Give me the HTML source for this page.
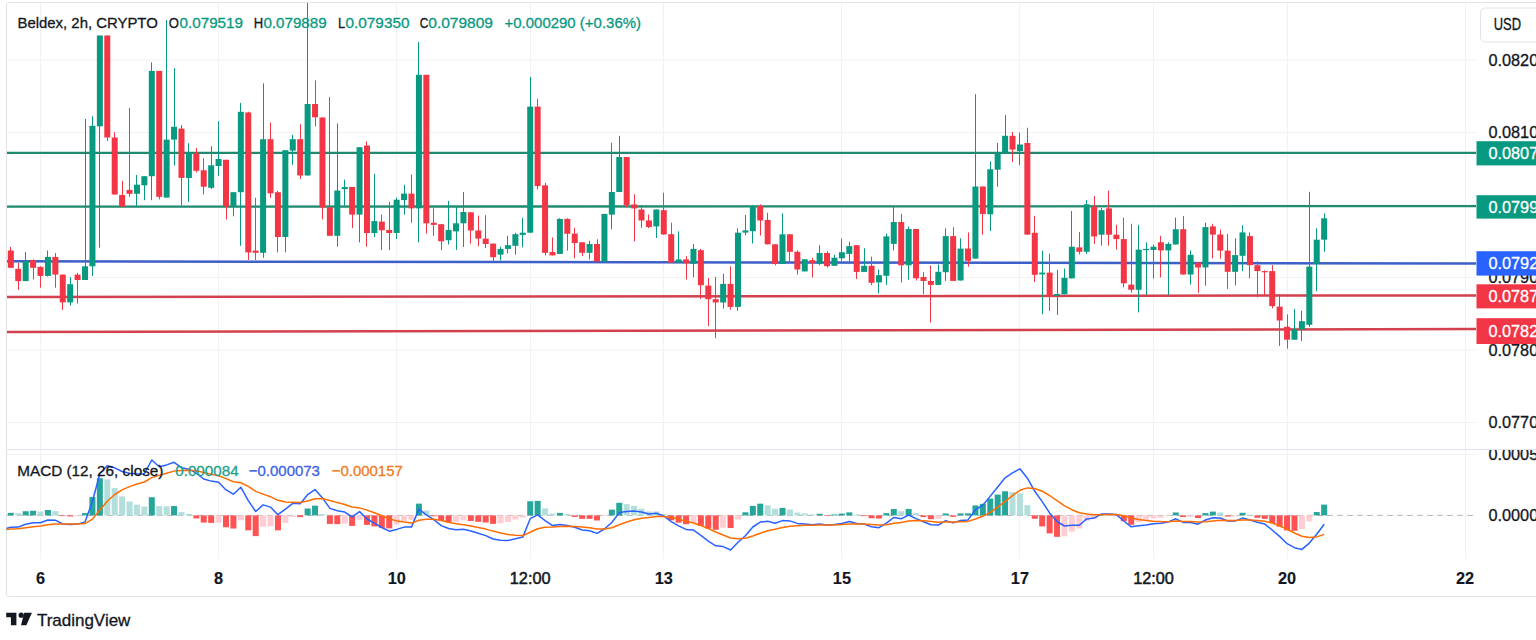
<!DOCTYPE html>
<html><head><meta charset="utf-8"><title>Beldex 2h chart</title>
<style>
html,body{margin:0;padding:0;background:#fff;width:1536px;height:640px;overflow:hidden}
svg{display:block}
text{font-family:"Liberation Sans",Arial,sans-serif}
</style></head><body>
<svg width="1536" height="640" viewBox="0 0 1536 640">
<defs><clipPath id="pane"><rect x="6.5" y="3" width="1469.5" height="593"/></clipPath></defs>
<rect x="0" y="0" width="1536" height="640" fill="#ffffff"/>

<path d="M1536 2.5H8.5a2 2 0 0 0-2 2V594.5a2 2 0 0 0 2 2H1536" fill="none" stroke="#e3e3e3" stroke-width="1"/>
<g stroke="#f2f2f2" stroke-width="1">
<line x1="40.5" y1="3" x2="40.5" y2="559"/>
<line x1="218.5" y1="3" x2="218.5" y2="559"/>
<line x1="396.5" y1="3" x2="396.5" y2="559"/>
<line x1="530.5" y1="3" x2="530.5" y2="559"/>
<line x1="663.5" y1="3" x2="663.5" y2="559"/>
<line x1="841.5" y1="3" x2="841.5" y2="559"/>
<line x1="1019.5" y1="3" x2="1019.5" y2="559"/>
<line x1="1153.5" y1="3" x2="1153.5" y2="559"/>
<line x1="1287.5" y1="3" x2="1287.5" y2="559"/>
<line x1="1465.5" y1="3" x2="1465.5" y2="559"/>
<line x1="7" y1="60" x2="1476" y2="60"/>
<line x1="7" y1="132.5" x2="1476" y2="132.5"/>
<line x1="7" y1="205" x2="1476" y2="205"/>
<line x1="7" y1="277.5" x2="1476" y2="277.5"/>
<line x1="7" y1="350" x2="1476" y2="350"/>
<line x1="7" y1="422.5" x2="1476" y2="422.5"/>
<line x1="7" y1="454.5" x2="1476" y2="454.5"/>
</g>
<line x1="7" y1="449.5" x2="1536" y2="449.5" stroke="#e0e3eb" stroke-width="1"/>
<g fill="none">
<line x1="7" y1="152.8" x2="1476" y2="152.95" stroke="#1f8a70" stroke-width="2.3"/>
<line x1="7" y1="206.7" x2="1476" y2="206.1" stroke="#1f8a70" stroke-width="2.3"/>
<line x1="7" y1="261.3" x2="1476" y2="263.55" stroke="#3d5fc8" stroke-width="2.5"/>
<line x1="7" y1="297.0" x2="1476" y2="295.4" stroke="#d2414d" stroke-width="2.5"/>
<line x1="7" y1="332.1" x2="1476" y2="329.0" stroke="#d2414d" stroke-width="2.5"/>
</g>
<g clip-path="url(#pane)">
<rect x="10" y="247.0" width="1" height="20.8" fill="#F23645"/>
<rect x="7.82" y="250.5" width="6" height="17.3" fill="#F23645"/>
<rect x="18" y="263.0" width="1" height="26.9" fill="#F23645"/>
<rect x="15.24" y="268.9" width="6" height="12.2" fill="#F23645"/>
<rect x="25" y="252.0" width="1" height="29.1" fill="#089981"/>
<rect x="22.66" y="260.8" width="6" height="20.3" fill="#089981"/>
<rect x="33" y="259.3" width="1" height="20.1" fill="#F23645"/>
<rect x="30.08" y="260.1" width="6" height="7.7" fill="#F23645"/>
<rect x="40" y="266.3" width="1" height="21.4" fill="#F23645"/>
<rect x="37.50" y="266.9" width="6" height="9.0" fill="#F23645"/>
<rect x="47" y="250.5" width="1" height="26.0" fill="#089981"/>
<rect x="44.92" y="256.9" width="6" height="19.0" fill="#089981"/>
<rect x="55" y="253.1" width="1" height="34.6" fill="#F23645"/>
<rect x="52.34" y="256.9" width="6" height="17.7" fill="#F23645"/>
<rect x="62" y="274.6" width="1" height="35.4" fill="#F23645"/>
<rect x="59.76" y="274.6" width="6" height="27.8" fill="#F23645"/>
<rect x="70" y="277.2" width="1" height="28.4" fill="#089981"/>
<rect x="67.18" y="284.2" width="6" height="18.2" fill="#089981"/>
<rect x="77" y="272.8" width="1" height="30.7" fill="#F23645"/>
<rect x="74.60" y="274.6" width="6" height="5.4" fill="#F23645"/>
<rect x="85" y="119.0" width="1" height="161.0" fill="#089981"/>
<rect x="82.02" y="266.3" width="6" height="13.7" fill="#089981"/>
<rect x="92" y="116.4" width="1" height="159.7" fill="#089981"/>
<rect x="89.44" y="125.8" width="6" height="140.5" fill="#089981"/>
<rect x="99" y="35.5" width="1" height="212.2" fill="#089981"/>
<rect x="96.86" y="35.5" width="6" height="90.8" fill="#089981"/>
<rect x="107" y="35.5" width="1" height="105.5" fill="#F23645"/>
<rect x="104.28" y="35.5" width="6" height="102.0" fill="#F23645"/>
<rect x="114" y="132.3" width="1" height="62.2" fill="#F23645"/>
<rect x="111.70" y="137.5" width="6" height="57.0" fill="#F23645"/>
<rect x="122" y="180.8" width="1" height="25.8" fill="#F23645"/>
<rect x="119.12" y="195.0" width="6" height="11.6" fill="#F23645"/>
<rect x="129" y="107.7" width="1" height="89.1" fill="#F23645"/>
<rect x="126.54" y="189.9" width="6" height="3.9" fill="#F23645"/>
<rect x="136" y="175.0" width="1" height="32.0" fill="#089981"/>
<rect x="133.96" y="184.7" width="6" height="9.1" fill="#089981"/>
<rect x="144" y="176.2" width="1" height="24.0" fill="#089981"/>
<rect x="141.38" y="176.2" width="6" height="9.1" fill="#089981"/>
<rect x="151" y="62.4" width="1" height="137.8" fill="#089981"/>
<rect x="148.80" y="70.9" width="6" height="105.3" fill="#089981"/>
<rect x="159" y="70.9" width="1" height="128.4" fill="#F23645"/>
<rect x="156.22" y="70.9" width="6" height="125.9" fill="#F23645"/>
<rect x="166" y="20.0" width="1" height="177.6" fill="#089981"/>
<rect x="163.64" y="139.6" width="6" height="58.0" fill="#089981"/>
<rect x="174" y="68.3" width="1" height="97.2" fill="#089981"/>
<rect x="171.06" y="126.8" width="6" height="12.8" fill="#089981"/>
<rect x="181" y="125.1" width="1" height="80.4" fill="#F23645"/>
<rect x="178.48" y="128.6" width="6" height="49.3" fill="#F23645"/>
<rect x="188" y="143.2" width="1" height="58.8" fill="#089981"/>
<rect x="185.90" y="152.8" width="6" height="25.2" fill="#089981"/>
<rect x="196" y="148.0" width="1" height="24.5" fill="#F23645"/>
<rect x="193.32" y="153.3" width="6" height="17.5" fill="#F23645"/>
<rect x="203" y="158.2" width="1" height="36.2" fill="#F23645"/>
<rect x="200.74" y="170.3" width="6" height="16.4" fill="#F23645"/>
<rect x="211" y="146.2" width="1" height="42.7" fill="#089981"/>
<rect x="208.16" y="165.3" width="6" height="22.5" fill="#089981"/>
<rect x="218" y="121.2" width="1" height="54.6" fill="#089981"/>
<rect x="215.58" y="159.0" width="6" height="7.0" fill="#089981"/>
<rect x="226" y="159.7" width="1" height="59.8" fill="#F23645"/>
<rect x="223.00" y="159.8" width="6" height="46.6" fill="#F23645"/>
<rect x="233" y="192.2" width="1" height="24.1" fill="#089981"/>
<rect x="230.42" y="192.2" width="6" height="14.2" fill="#089981"/>
<rect x="240" y="102.9" width="1" height="142.9" fill="#089981"/>
<rect x="237.84" y="111.8" width="6" height="80.4" fill="#089981"/>
<rect x="248" y="111.7" width="1" height="148.3" fill="#F23645"/>
<rect x="245.26" y="112.5" width="6" height="139.9" fill="#F23645"/>
<rect x="255" y="197.7" width="1" height="62.3" fill="#F23645"/>
<rect x="252.68" y="250.6" width="6" height="2.2" fill="#F23645"/>
<rect x="263" y="83.3" width="1" height="174.5" fill="#089981"/>
<rect x="260.10" y="139.2" width="6" height="113.6" fill="#089981"/>
<rect x="270" y="122.5" width="1" height="75.2" fill="#F23645"/>
<rect x="267.52" y="139.2" width="6" height="54.1" fill="#F23645"/>
<rect x="277" y="191.0" width="1" height="61.4" fill="#F23645"/>
<rect x="274.94" y="192.2" width="6" height="44.8" fill="#F23645"/>
<rect x="285" y="150.2" width="1" height="102.2" fill="#089981"/>
<rect x="282.36" y="150.2" width="6" height="86.8" fill="#089981"/>
<rect x="292" y="134.8" width="1" height="30.0" fill="#089981"/>
<rect x="289.78" y="139.2" width="6" height="11.4" fill="#089981"/>
<rect x="300" y="124.2" width="1" height="54.8" fill="#F23645"/>
<rect x="297.20" y="139.2" width="6" height="36.3" fill="#F23645"/>
<rect x="307" y="3.0" width="1" height="172.5" fill="#089981"/>
<rect x="304.62" y="104.0" width="6" height="71.5" fill="#089981"/>
<rect x="315" y="80.4" width="1" height="46.0" fill="#F23645"/>
<rect x="312.04" y="104.0" width="6" height="13.3" fill="#F23645"/>
<rect x="322" y="117.2" width="1" height="102.2" fill="#F23645"/>
<rect x="319.46" y="117.5" width="6" height="89.9" fill="#F23645"/>
<rect x="329" y="96.9" width="1" height="138.9" fill="#F23645"/>
<rect x="326.88" y="207.4" width="6" height="28.4" fill="#F23645"/>
<rect x="337" y="123.5" width="1" height="123.2" fill="#089981"/>
<rect x="334.30" y="190.5" width="6" height="45.3" fill="#089981"/>
<rect x="344" y="179.6" width="1" height="26.2" fill="#089981"/>
<rect x="341.72" y="187.0" width="6" height="2.2" fill="#089981"/>
<rect x="352" y="187.0" width="1" height="41.1" fill="#F23645"/>
<rect x="349.14" y="187.0" width="6" height="27.6" fill="#F23645"/>
<rect x="359" y="147.2" width="1" height="95.2" fill="#089981"/>
<rect x="356.56" y="147.2" width="6" height="67.4" fill="#089981"/>
<rect x="366" y="141.5" width="1" height="105.2" fill="#F23645"/>
<rect x="363.98" y="145.5" width="6" height="87.5" fill="#F23645"/>
<rect x="374" y="173.9" width="1" height="63.0" fill="#089981"/>
<rect x="371.40" y="221.1" width="6" height="11.9" fill="#089981"/>
<rect x="381" y="214.6" width="1" height="35.4" fill="#F23645"/>
<rect x="378.82" y="221.6" width="6" height="8.7" fill="#F23645"/>
<rect x="389" y="201.9" width="1" height="48.1" fill="#F23645"/>
<rect x="386.24" y="229.9" width="6" height="3.1" fill="#F23645"/>
<rect x="396" y="197.5" width="1" height="41.6" fill="#089981"/>
<rect x="393.66" y="199.7" width="6" height="33.3" fill="#089981"/>
<rect x="404" y="184.8" width="1" height="29.8" fill="#089981"/>
<rect x="401.08" y="193.6" width="6" height="6.5" fill="#089981"/>
<rect x="411" y="174.5" width="1" height="48.2" fill="#F23645"/>
<rect x="408.50" y="193.6" width="6" height="14.8" fill="#F23645"/>
<rect x="418" y="42.0" width="1" height="200.4" fill="#089981"/>
<rect x="415.92" y="74.8" width="6" height="133.6" fill="#089981"/>
<rect x="426" y="74.8" width="1" height="158.8" fill="#F23645"/>
<rect x="423.34" y="74.8" width="6" height="148.5" fill="#F23645"/>
<rect x="433" y="208.4" width="1" height="27.4" fill="#F23645"/>
<rect x="430.76" y="222.7" width="6" height="2.2" fill="#F23645"/>
<rect x="441" y="224.2" width="1" height="25.8" fill="#F23645"/>
<rect x="438.18" y="224.2" width="6" height="17.1" fill="#F23645"/>
<rect x="448" y="200.8" width="1" height="43.7" fill="#089981"/>
<rect x="445.60" y="229.9" width="6" height="10.3" fill="#089981"/>
<rect x="456" y="206.3" width="1" height="43.7" fill="#089981"/>
<rect x="453.02" y="223.3" width="6" height="8.1" fill="#089981"/>
<rect x="463" y="192.0" width="1" height="55.0" fill="#089981"/>
<rect x="460.44" y="212.0" width="6" height="11.3" fill="#089981"/>
<rect x="470" y="212.3" width="1" height="31.3" fill="#F23645"/>
<rect x="467.86" y="212.3" width="6" height="18.2" fill="#F23645"/>
<rect x="478" y="215.6" width="1" height="30.7" fill="#F23645"/>
<rect x="475.28" y="230.5" width="6" height="8.1" fill="#F23645"/>
<rect x="485" y="215.2" width="1" height="32.8" fill="#F23645"/>
<rect x="482.70" y="238.6" width="6" height="5.4" fill="#F23645"/>
<rect x="493" y="243.6" width="1" height="18.0" fill="#F23645"/>
<rect x="490.12" y="243.6" width="6" height="13.6" fill="#F23645"/>
<rect x="500" y="246.7" width="1" height="13.8" fill="#089981"/>
<rect x="497.54" y="248.9" width="6" height="5.7" fill="#089981"/>
<rect x="507" y="235.8" width="1" height="17.5" fill="#089981"/>
<rect x="504.96" y="245.2" width="6" height="3.7" fill="#089981"/>
<rect x="515" y="232.7" width="1" height="21.9" fill="#089981"/>
<rect x="512.38" y="234.2" width="6" height="11.6" fill="#089981"/>
<rect x="522" y="217.8" width="1" height="29.6" fill="#089981"/>
<rect x="519.80" y="232.7" width="6" height="2.2" fill="#089981"/>
<rect x="530" y="77.0" width="1" height="155.7" fill="#089981"/>
<rect x="527.22" y="106.6" width="6" height="126.1" fill="#089981"/>
<rect x="537" y="98.9" width="1" height="90.5" fill="#F23645"/>
<rect x="534.64" y="106.6" width="6" height="79.5" fill="#F23645"/>
<rect x="545" y="182.8" width="1" height="72.6" fill="#F23645"/>
<rect x="542.06" y="185.4" width="6" height="67.4" fill="#F23645"/>
<rect x="552" y="237.5" width="1" height="17.9" fill="#F23645"/>
<rect x="549.48" y="252.0" width="6" height="3.4" fill="#F23645"/>
<rect x="559" y="218.3" width="1" height="35.6" fill="#089981"/>
<rect x="556.90" y="218.9" width="6" height="35.0" fill="#089981"/>
<rect x="567" y="218.3" width="1" height="32.3" fill="#F23645"/>
<rect x="564.32" y="218.9" width="6" height="14.9" fill="#F23645"/>
<rect x="574" y="227.7" width="1" height="30.6" fill="#F23645"/>
<rect x="571.74" y="233.6" width="6" height="9.4" fill="#F23645"/>
<rect x="582" y="242.3" width="1" height="13.8" fill="#F23645"/>
<rect x="579.16" y="242.3" width="6" height="10.5" fill="#F23645"/>
<rect x="589" y="240.8" width="1" height="18.6" fill="#089981"/>
<rect x="586.58" y="244.0" width="6" height="8.8" fill="#089981"/>
<rect x="597" y="239.3" width="1" height="22.3" fill="#F23645"/>
<rect x="594.00" y="244.0" width="6" height="17.6" fill="#F23645"/>
<rect x="604" y="213.9" width="1" height="47.7" fill="#089981"/>
<rect x="601.42" y="213.9" width="6" height="47.7" fill="#089981"/>
<rect x="611" y="142.8" width="1" height="86.4" fill="#089981"/>
<rect x="608.84" y="192.0" width="6" height="22.6" fill="#089981"/>
<rect x="619" y="135.8" width="1" height="56.2" fill="#089981"/>
<rect x="616.26" y="157.0" width="6" height="35.0" fill="#089981"/>
<rect x="626" y="157.0" width="1" height="50.4" fill="#F23645"/>
<rect x="623.68" y="157.0" width="6" height="48.2" fill="#F23645"/>
<rect x="634" y="194.2" width="1" height="47.1" fill="#F23645"/>
<rect x="631.10" y="204.5" width="6" height="3.9" fill="#F23645"/>
<rect x="641" y="205.2" width="1" height="22.5" fill="#F23645"/>
<rect x="638.52" y="209.5" width="6" height="11.0" fill="#F23645"/>
<rect x="648" y="214.6" width="1" height="13.5" fill="#F23645"/>
<rect x="645.94" y="220.5" width="6" height="6.5" fill="#F23645"/>
<rect x="656" y="209.5" width="1" height="28.5" fill="#089981"/>
<rect x="653.36" y="209.5" width="6" height="16.9" fill="#089981"/>
<rect x="663" y="192.7" width="1" height="41.8" fill="#F23645"/>
<rect x="660.78" y="210.2" width="6" height="24.3" fill="#F23645"/>
<rect x="671" y="222.7" width="1" height="40.0" fill="#F23645"/>
<rect x="668.20" y="234.2" width="6" height="28.5" fill="#F23645"/>
<rect x="678" y="231.4" width="1" height="31.3" fill="#089981"/>
<rect x="675.62" y="259.4" width="6" height="3.3" fill="#089981"/>
<rect x="686" y="256.1" width="1" height="23.4" fill="#F23645"/>
<rect x="683.04" y="259.4" width="6" height="3.9" fill="#F23645"/>
<rect x="693" y="244.0" width="1" height="33.3" fill="#089981"/>
<rect x="690.46" y="248.9" width="6" height="14.9" fill="#089981"/>
<rect x="700" y="248.9" width="1" height="50.3" fill="#F23645"/>
<rect x="697.88" y="250.2" width="6" height="35.0" fill="#F23645"/>
<rect x="708" y="278.0" width="1" height="48.1" fill="#F23645"/>
<rect x="705.30" y="285.6" width="6" height="13.6" fill="#F23645"/>
<rect x="715" y="276.9" width="1" height="61.2" fill="#F23645"/>
<rect x="712.72" y="299.2" width="6" height="3.3" fill="#F23645"/>
<rect x="723" y="273.6" width="1" height="35.0" fill="#089981"/>
<rect x="720.14" y="283.9" width="6" height="18.6" fill="#089981"/>
<rect x="730" y="266.4" width="1" height="43.3" fill="#F23645"/>
<rect x="727.56" y="283.9" width="6" height="23.0" fill="#F23645"/>
<rect x="737" y="228.2" width="1" height="82.6" fill="#089981"/>
<rect x="734.98" y="232.7" width="6" height="74.2" fill="#089981"/>
<rect x="745" y="215.0" width="1" height="20.2" fill="#089981"/>
<rect x="742.40" y="230.4" width="6" height="2.2" fill="#089981"/>
<rect x="752" y="205.2" width="1" height="38.3" fill="#089981"/>
<rect x="749.82" y="206.0" width="6" height="25.2" fill="#089981"/>
<rect x="760" y="204.5" width="1" height="31.0" fill="#F23645"/>
<rect x="757.24" y="206.0" width="6" height="14.5" fill="#F23645"/>
<rect x="767" y="212.8" width="1" height="31.7" fill="#F23645"/>
<rect x="764.66" y="220.0" width="6" height="24.3" fill="#F23645"/>
<rect x="775" y="244.3" width="1" height="21.0" fill="#F23645"/>
<rect x="772.08" y="244.3" width="6" height="19.7" fill="#F23645"/>
<rect x="782" y="213.3" width="1" height="50.7" fill="#089981"/>
<rect x="779.50" y="234.3" width="6" height="29.7" fill="#089981"/>
<rect x="789" y="234.3" width="1" height="27.0" fill="#F23645"/>
<rect x="786.92" y="234.3" width="6" height="17.5" fill="#F23645"/>
<rect x="797" y="250.4" width="1" height="24.2" fill="#F23645"/>
<rect x="794.34" y="251.8" width="6" height="17.7" fill="#F23645"/>
<rect x="804" y="259.2" width="1" height="12.2" fill="#089981"/>
<rect x="801.76" y="259.3" width="6" height="12.1" fill="#089981"/>
<rect x="812" y="257.9" width="1" height="19.5" fill="#F23645"/>
<rect x="809.18" y="260.2" width="6" height="2.7" fill="#F23645"/>
<rect x="819" y="245.2" width="1" height="20.1" fill="#089981"/>
<rect x="816.60" y="253.0" width="6" height="10.7" fill="#089981"/>
<rect x="827" y="251.1" width="1" height="16.4" fill="#F23645"/>
<rect x="824.02" y="253.0" width="6" height="13.2" fill="#F23645"/>
<rect x="834" y="254.8" width="1" height="11.0" fill="#089981"/>
<rect x="831.44" y="257.7" width="6" height="8.1" fill="#089981"/>
<rect x="841" y="238.6" width="1" height="22.8" fill="#089981"/>
<rect x="838.86" y="252.2" width="6" height="6.1" fill="#089981"/>
<rect x="849" y="241.7" width="1" height="22.5" fill="#089981"/>
<rect x="846.28" y="246.1" width="6" height="7.8" fill="#089981"/>
<rect x="856" y="245.2" width="1" height="33.7" fill="#F23645"/>
<rect x="853.70" y="245.2" width="6" height="26.7" fill="#F23645"/>
<rect x="864" y="248.3" width="1" height="23.6" fill="#089981"/>
<rect x="861.12" y="265.8" width="6" height="6.1" fill="#089981"/>
<rect x="871" y="256.6" width="1" height="28.4" fill="#F23645"/>
<rect x="868.54" y="265.8" width="6" height="17.0" fill="#F23645"/>
<rect x="878" y="269.3" width="1" height="24.0" fill="#089981"/>
<rect x="875.96" y="275.2" width="6" height="7.2" fill="#089981"/>
<rect x="886" y="233.6" width="1" height="51.4" fill="#089981"/>
<rect x="883.38" y="236.4" width="6" height="39.4" fill="#089981"/>
<rect x="893" y="206.3" width="1" height="44.1" fill="#089981"/>
<rect x="890.80" y="222.0" width="6" height="21.9" fill="#089981"/>
<rect x="901" y="213.9" width="1" height="68.6" fill="#F23645"/>
<rect x="898.22" y="222.0" width="6" height="43.3" fill="#F23645"/>
<rect x="908" y="226.5" width="1" height="53.2" fill="#089981"/>
<rect x="905.64" y="229.0" width="6" height="36.3" fill="#089981"/>
<rect x="916" y="229.0" width="1" height="51.5" fill="#F23645"/>
<rect x="913.06" y="229.0" width="6" height="49.3" fill="#F23645"/>
<rect x="923" y="272.2" width="1" height="21.9" fill="#F23645"/>
<rect x="920.48" y="277.0" width="6" height="4.0" fill="#F23645"/>
<rect x="930" y="265.6" width="1" height="56.9" fill="#F23645"/>
<rect x="927.90" y="281.0" width="6" height="3.9" fill="#F23645"/>
<rect x="938" y="264.5" width="1" height="20.4" fill="#089981"/>
<rect x="935.32" y="271.8" width="6" height="13.1" fill="#089981"/>
<rect x="945" y="228.4" width="1" height="52.5" fill="#089981"/>
<rect x="942.74" y="236.1" width="6" height="36.1" fill="#089981"/>
<rect x="953" y="227.3" width="1" height="53.6" fill="#F23645"/>
<rect x="950.16" y="236.1" width="6" height="44.8" fill="#F23645"/>
<rect x="960" y="238.3" width="1" height="42.2" fill="#089981"/>
<rect x="957.58" y="248.6" width="6" height="31.9" fill="#089981"/>
<rect x="968" y="232.4" width="1" height="34.3" fill="#F23645"/>
<rect x="965.00" y="248.6" width="6" height="12.2" fill="#F23645"/>
<rect x="975" y="94.2" width="1" height="164.4" fill="#089981"/>
<rect x="972.42" y="186.5" width="6" height="72.1" fill="#089981"/>
<rect x="982" y="186.5" width="1" height="48.1" fill="#F23645"/>
<rect x="979.84" y="186.5" width="6" height="27.5" fill="#F23645"/>
<rect x="990" y="161.4" width="1" height="69.7" fill="#089981"/>
<rect x="987.26" y="169.3" width="6" height="45.0" fill="#089981"/>
<rect x="997" y="143.0" width="1" height="43.8" fill="#089981"/>
<rect x="994.68" y="153.3" width="6" height="16.4" fill="#089981"/>
<rect x="1005" y="115.0" width="1" height="37.6" fill="#089981"/>
<rect x="1002.10" y="135.8" width="6" height="16.8" fill="#089981"/>
<rect x="1012" y="132.0" width="1" height="30.0" fill="#F23645"/>
<rect x="1009.52" y="135.8" width="6" height="13.8" fill="#F23645"/>
<rect x="1019" y="132.5" width="1" height="32.4" fill="#089981"/>
<rect x="1016.94" y="144.5" width="6" height="6.6" fill="#089981"/>
<rect x="1027" y="127.7" width="1" height="106.9" fill="#F23645"/>
<rect x="1024.36" y="143.0" width="6" height="91.6" fill="#F23645"/>
<rect x="1034" y="215.8" width="1" height="66.2" fill="#F23645"/>
<rect x="1031.78" y="232.8" width="6" height="42.0" fill="#F23645"/>
<rect x="1042" y="250.8" width="1" height="63.4" fill="#089981"/>
<rect x="1039.20" y="272.6" width="6" height="1.8" fill="#089981"/>
<rect x="1049" y="253.6" width="1" height="57.5" fill="#F23645"/>
<rect x="1046.62" y="272.6" width="6" height="23.7" fill="#F23645"/>
<rect x="1057" y="270.0" width="1" height="44.9" fill="#089981"/>
<rect x="1054.04" y="294.0" width="6" height="1.8" fill="#089981"/>
<rect x="1064" y="268.5" width="1" height="25.8" fill="#089981"/>
<rect x="1061.46" y="277.8" width="6" height="16.5" fill="#089981"/>
<rect x="1071" y="211.1" width="1" height="67.3" fill="#089981"/>
<rect x="1068.88" y="246.7" width="6" height="31.7" fill="#089981"/>
<rect x="1079" y="232.1" width="1" height="22.3" fill="#F23645"/>
<rect x="1076.30" y="247.4" width="6" height="4.4" fill="#F23645"/>
<rect x="1086" y="200.0" width="1" height="54.0" fill="#089981"/>
<rect x="1083.72" y="204.3" width="6" height="47.5" fill="#089981"/>
<rect x="1094" y="195.9" width="1" height="48.0" fill="#F23645"/>
<rect x="1091.14" y="206.7" width="6" height="29.7" fill="#F23645"/>
<rect x="1101" y="208.0" width="1" height="37.6" fill="#089981"/>
<rect x="1098.56" y="210.2" width="6" height="24.5" fill="#089981"/>
<rect x="1108" y="190.5" width="1" height="55.1" fill="#F23645"/>
<rect x="1105.98" y="208.4" width="6" height="26.3" fill="#F23645"/>
<rect x="1116" y="224.8" width="1" height="24.8" fill="#F23645"/>
<rect x="1113.40" y="234.7" width="6" height="4.4" fill="#F23645"/>
<rect x="1123" y="217.6" width="1" height="69.6" fill="#F23645"/>
<rect x="1120.82" y="239.1" width="6" height="44.2" fill="#F23645"/>
<rect x="1131" y="223.8" width="1" height="68.9" fill="#F23645"/>
<rect x="1128.24" y="284.6" width="6" height="5.2" fill="#F23645"/>
<rect x="1138" y="224.8" width="1" height="87.6" fill="#089981"/>
<rect x="1135.66" y="249.6" width="6" height="40.2" fill="#089981"/>
<rect x="1146" y="242.3" width="1" height="52.6" fill="#089981"/>
<rect x="1143.08" y="248.9" width="6" height="1.2" fill="#089981"/>
<rect x="1153" y="244.5" width="1" height="33.9" fill="#089981"/>
<rect x="1150.50" y="246.7" width="6" height="3.3" fill="#089981"/>
<rect x="1160" y="235.8" width="1" height="41.6" fill="#F23645"/>
<rect x="1157.92" y="242.3" width="6" height="8.1" fill="#F23645"/>
<rect x="1168" y="242.3" width="1" height="52.6" fill="#089981"/>
<rect x="1165.34" y="243.9" width="6" height="6.5" fill="#089981"/>
<rect x="1175" y="217.6" width="1" height="26.9" fill="#089981"/>
<rect x="1172.76" y="229.2" width="6" height="15.3" fill="#089981"/>
<rect x="1183" y="216.1" width="1" height="58.4" fill="#F23645"/>
<rect x="1180.18" y="229.2" width="6" height="45.3" fill="#F23645"/>
<rect x="1190" y="250.4" width="1" height="34.2" fill="#089981"/>
<rect x="1187.60" y="254.8" width="6" height="19.7" fill="#089981"/>
<rect x="1198" y="262.7" width="1" height="30.0" fill="#F23645"/>
<rect x="1195.02" y="262.7" width="6" height="4.8" fill="#F23645"/>
<rect x="1205" y="222.7" width="1" height="63.0" fill="#089981"/>
<rect x="1202.44" y="227.1" width="6" height="40.3" fill="#089981"/>
<rect x="1212" y="223.8" width="1" height="34.7" fill="#F23645"/>
<rect x="1209.86" y="226.4" width="6" height="8.2" fill="#F23645"/>
<rect x="1220" y="229.7" width="1" height="29.0" fill="#F23645"/>
<rect x="1217.28" y="234.5" width="6" height="16.1" fill="#F23645"/>
<rect x="1227" y="233.9" width="1" height="55.1" fill="#F23645"/>
<rect x="1224.70" y="250.6" width="6" height="21.2" fill="#F23645"/>
<rect x="1235" y="238.3" width="1" height="47.0" fill="#089981"/>
<rect x="1232.12" y="255.1" width="6" height="16.7" fill="#089981"/>
<rect x="1242" y="225.2" width="1" height="45.9" fill="#089981"/>
<rect x="1239.54" y="232.4" width="6" height="23.4" fill="#089981"/>
<rect x="1249" y="232.4" width="1" height="45.9" fill="#F23645"/>
<rect x="1246.96" y="236.1" width="6" height="29.1" fill="#F23645"/>
<rect x="1257" y="261.3" width="1" height="36.1" fill="#F23645"/>
<rect x="1254.38" y="265.2" width="6" height="5.9" fill="#F23645"/>
<rect x="1264" y="270.4" width="1" height="24.8" fill="#F23645"/>
<rect x="1261.80" y="271.1" width="6" height="1.2" fill="#F23645"/>
<rect x="1272" y="265.2" width="1" height="43.1" fill="#F23645"/>
<rect x="1269.22" y="271.1" width="6" height="35.0" fill="#F23645"/>
<rect x="1279" y="294.1" width="1" height="51.8" fill="#F23645"/>
<rect x="1276.64" y="306.6" width="6" height="13.9" fill="#F23645"/>
<rect x="1287" y="314.4" width="1" height="34.3" fill="#F23645"/>
<rect x="1284.06" y="326.8" width="6" height="12.9" fill="#F23645"/>
<rect x="1294" y="308.8" width="1" height="30.9" fill="#089981"/>
<rect x="1291.48" y="329.6" width="6" height="10.1" fill="#089981"/>
<rect x="1301" y="310.8" width="1" height="30.1" fill="#089981"/>
<rect x="1298.90" y="321.2" width="6" height="8.4" fill="#089981"/>
<rect x="1309" y="191.8" width="1" height="135.1" fill="#089981"/>
<rect x="1306.32" y="266.6" width="6" height="58.2" fill="#089981"/>
<rect x="1316" y="228.4" width="1" height="62.7" fill="#089981"/>
<rect x="1313.74" y="239.7" width="6" height="24.1" fill="#089981"/>
<rect x="1324" y="213.4" width="1" height="38.2" fill="#089981"/>
<rect x="1321.16" y="218.3" width="6" height="21.4" fill="#089981"/>
</g>
<line x1="7" y1="515.4" x2="1476" y2="515.4" stroke="#b8b8b8" stroke-width="1" stroke-dasharray="6 4"/>
<g clip-path="url(#pane)">
<rect x="7.82" y="512.84" width="6" height="2.56" fill="#26A69A"/>
<rect x="15.24" y="513.19" width="6" height="2.21" fill="#B2DFDB"/>
<rect x="22.66" y="511.22" width="6" height="4.18" fill="#26A69A"/>
<rect x="30.08" y="510.80" width="6" height="4.60" fill="#26A69A"/>
<rect x="37.50" y="511.51" width="6" height="3.89" fill="#B2DFDB"/>
<rect x="44.92" y="510.00" width="6" height="5.40" fill="#26A69A"/>
<rect x="52.34" y="511.11" width="6" height="4.29" fill="#B2DFDB"/>
<rect x="59.76" y="515.40" width="6" height="0.68" fill="#FF5252"/>
<rect x="67.18" y="515.40" width="6" height="1.03" fill="#FF5252"/>
<rect x="74.60" y="515.40" width="6" height="0.69" fill="#FFCDD2"/>
<rect x="82.02" y="513.14" width="6" height="2.26" fill="#26A69A"/>
<rect x="89.44" y="497.08" width="6" height="18.32" fill="#26A69A"/>
<rect x="96.86" y="478.29" width="6" height="37.11" fill="#26A69A"/>
<rect x="104.28" y="479.34" width="6" height="36.06" fill="#B2DFDB"/>
<rect x="111.70" y="488.07" width="6" height="27.33" fill="#B2DFDB"/>
<rect x="119.12" y="496.41" width="6" height="18.99" fill="#B2DFDB"/>
<rect x="126.54" y="501.48" width="6" height="13.92" fill="#B2DFDB"/>
<rect x="133.96" y="504.65" width="6" height="10.75" fill="#B2DFDB"/>
<rect x="141.38" y="506.54" width="6" height="8.86" fill="#B2DFDB"/>
<rect x="148.80" y="497.25" width="6" height="18.15" fill="#26A69A"/>
<rect x="156.22" y="506.10" width="6" height="9.30" fill="#B2DFDB"/>
<rect x="163.64" y="506.38" width="6" height="9.02" fill="#B2DFDB"/>
<rect x="171.06" y="506.01" width="6" height="9.39" fill="#26A69A"/>
<rect x="178.48" y="512.09" width="6" height="3.31" fill="#B2DFDB"/>
<rect x="185.90" y="513.78" width="6" height="1.62" fill="#B2DFDB"/>
<rect x="193.32" y="515.40" width="6" height="3.02" fill="#FF5252"/>
<rect x="200.74" y="515.40" width="6" height="7.15" fill="#FF5252"/>
<rect x="208.16" y="515.40" width="6" height="7.51" fill="#FF5252"/>
<rect x="215.58" y="515.40" width="6" height="7.08" fill="#FFCDD2"/>
<rect x="223.00" y="515.40" width="6" height="11.88" fill="#FF5252"/>
<rect x="230.42" y="515.40" width="6" height="13.12" fill="#FF5252"/>
<rect x="237.84" y="515.40" width="6" height="4.98" fill="#FFCDD2"/>
<rect x="245.26" y="515.40" width="6" height="14.93" fill="#FF5252"/>
<rect x="252.68" y="515.40" width="6" height="20.72" fill="#FF5252"/>
<rect x="260.10" y="515.40" width="6" height="11.41" fill="#FFCDD2"/>
<rect x="267.52" y="515.40" width="6" height="10.96" fill="#FFCDD2"/>
<rect x="274.94" y="515.40" width="6" height="14.97" fill="#FF5252"/>
<rect x="282.36" y="515.40" width="6" height="7.61" fill="#FFCDD2"/>
<rect x="289.78" y="515.40" width="6" height="1.59" fill="#FFCDD2"/>
<rect x="297.20" y="515.40" width="6" height="1.74" fill="#FF5252"/>
<rect x="304.62" y="508.48" width="6" height="6.92" fill="#26A69A"/>
<rect x="312.04" y="505.68" width="6" height="9.72" fill="#26A69A"/>
<rect x="319.46" y="514.16" width="6" height="1.24" fill="#B2DFDB"/>
<rect x="326.88" y="515.40" width="6" height="8.49" fill="#FF5252"/>
<rect x="334.30" y="515.40" width="6" height="8.72" fill="#FF5252"/>
<rect x="341.72" y="515.40" width="6" height="8.19" fill="#FFCDD2"/>
<rect x="349.14" y="515.40" width="6" height="10.50" fill="#FF5252"/>
<rect x="356.56" y="515.40" width="6" height="4.32" fill="#FFCDD2"/>
<rect x="363.98" y="515.40" width="6" height="9.47" fill="#FF5252"/>
<rect x="371.40" y="515.40" width="6" height="11.01" fill="#FF5252"/>
<rect x="378.82" y="515.40" width="6" height="12.43" fill="#FF5252"/>
<rect x="386.24" y="515.40" width="6" height="12.99" fill="#FF5252"/>
<rect x="393.66" y="515.40" width="6" height="9.11" fill="#FFCDD2"/>
<rect x="401.08" y="515.40" width="6" height="5.53" fill="#FFCDD2"/>
<rect x="408.50" y="515.40" width="6" height="4.55" fill="#FFCDD2"/>
<rect x="415.92" y="503.62" width="6" height="11.78" fill="#26A69A"/>
<rect x="423.34" y="510.50" width="6" height="4.90" fill="#B2DFDB"/>
<rect x="430.76" y="515.40" width="6" height="0.97" fill="#FF5252"/>
<rect x="438.18" y="515.40" width="6" height="5.60" fill="#FF5252"/>
<rect x="445.60" y="515.40" width="6" height="6.97" fill="#FF5252"/>
<rect x="453.02" y="515.40" width="6" height="6.73" fill="#FFCDD2"/>
<rect x="460.44" y="515.40" width="6" height="4.98" fill="#FFCDD2"/>
<rect x="467.86" y="515.40" width="6" height="5.54" fill="#FF5252"/>
<rect x="475.28" y="515.40" width="6" height="6.40" fill="#FF5252"/>
<rect x="482.70" y="515.40" width="6" height="7.09" fill="#FF5252"/>
<rect x="490.12" y="515.40" width="6" height="8.47" fill="#FF5252"/>
<rect x="497.54" y="515.40" width="6" height="7.90" fill="#FFCDD2"/>
<rect x="504.96" y="515.40" width="6" height="6.60" fill="#FFCDD2"/>
<rect x="512.38" y="515.40" width="6" height="4.13" fill="#FFCDD2"/>
<rect x="519.80" y="515.40" width="6" height="2.05" fill="#FFCDD2"/>
<rect x="527.22" y="501.25" width="6" height="14.15" fill="#26A69A"/>
<rect x="534.64" y="500.88" width="6" height="14.52" fill="#26A69A"/>
<rect x="542.06" y="508.36" width="6" height="7.04" fill="#B2DFDB"/>
<rect x="549.48" y="513.56" width="6" height="1.84" fill="#B2DFDB"/>
<rect x="556.90" y="512.89" width="6" height="2.51" fill="#26A69A"/>
<rect x="564.32" y="514.05" width="6" height="1.35" fill="#B2DFDB"/>
<rect x="571.74" y="515.40" width="6" height="1.51" fill="#FF5252"/>
<rect x="579.16" y="515.40" width="6" height="3.44" fill="#FF5252"/>
<rect x="586.58" y="515.40" width="6" height="3.45" fill="#FF5252"/>
<rect x="594.00" y="515.40" width="6" height="5.08" fill="#FF5252"/>
<rect x="601.42" y="515.40" width="6" height="0.65" fill="#FFCDD2"/>
<rect x="608.84" y="509.62" width="6" height="5.78" fill="#26A69A"/>
<rect x="616.26" y="502.77" width="6" height="12.63" fill="#26A69A"/>
<rect x="623.68" y="504.16" width="6" height="11.24" fill="#B2DFDB"/>
<rect x="631.10" y="505.87" width="6" height="9.53" fill="#B2DFDB"/>
<rect x="638.52" y="508.66" width="6" height="6.74" fill="#B2DFDB"/>
<rect x="645.94" y="511.39" width="6" height="4.01" fill="#B2DFDB"/>
<rect x="653.36" y="511.41" width="6" height="3.99" fill="#B2DFDB"/>
<rect x="660.78" y="514.24" width="6" height="1.16" fill="#B2DFDB"/>
<rect x="668.20" y="515.40" width="6" height="4.85" fill="#FF5252"/>
<rect x="675.62" y="515.40" width="6" height="7.26" fill="#FF5252"/>
<rect x="683.04" y="515.40" width="6" height="8.81" fill="#FF5252"/>
<rect x="690.46" y="515.40" width="6" height="7.76" fill="#FFCDD2"/>
<rect x="697.88" y="515.40" width="6" height="10.53" fill="#FF5252"/>
<rect x="705.30" y="515.40" width="6" height="13.15" fill="#FF5252"/>
<rect x="712.72" y="515.40" width="6" height="14.36" fill="#FF5252"/>
<rect x="720.14" y="515.40" width="6" height="12.26" fill="#FFCDD2"/>
<rect x="727.56" y="515.40" width="6" height="12.61" fill="#FF5252"/>
<rect x="734.98" y="515.40" width="6" height="4.09" fill="#FFCDD2"/>
<rect x="742.40" y="512.30" width="6" height="3.10" fill="#26A69A"/>
<rect x="749.82" y="505.87" width="6" height="9.53" fill="#26A69A"/>
<rect x="757.24" y="503.67" width="6" height="11.73" fill="#26A69A"/>
<rect x="764.66" y="505.25" width="6" height="10.15" fill="#B2DFDB"/>
<rect x="772.08" y="508.70" width="6" height="6.70" fill="#B2DFDB"/>
<rect x="779.50" y="507.88" width="6" height="7.52" fill="#26A69A"/>
<rect x="786.92" y="509.49" width="6" height="5.91" fill="#B2DFDB"/>
<rect x="794.34" y="512.57" width="6" height="2.83" fill="#B2DFDB"/>
<rect x="801.76" y="513.43" width="6" height="1.97" fill="#B2DFDB"/>
<rect x="809.18" y="514.34" width="6" height="1.06" fill="#B2DFDB"/>
<rect x="816.60" y="513.78" width="6" height="1.62" fill="#26A69A"/>
<rect x="824.02" y="515.40" width="6" height="0.61" fill="#FF5252"/>
<rect x="831.44" y="514.46" width="6" height="0.94" fill="#26A69A"/>
<rect x="838.86" y="513.59" width="6" height="1.81" fill="#26A69A"/>
<rect x="846.28" y="512.37" width="6" height="3.03" fill="#26A69A"/>
<rect x="853.70" y="514.40" width="6" height="1.00" fill="#B2DFDB"/>
<rect x="861.12" y="515.40" width="6" height="0.77" fill="#FF5252"/>
<rect x="868.54" y="515.40" width="6" height="2.86" fill="#FF5252"/>
<rect x="875.96" y="515.40" width="6" height="3.15" fill="#FF5252"/>
<rect x="883.38" y="513.18" width="6" height="2.22" fill="#26A69A"/>
<rect x="890.80" y="509.03" width="6" height="6.37" fill="#26A69A"/>
<rect x="898.22" y="511.27" width="6" height="4.13" fill="#B2DFDB"/>
<rect x="905.64" y="508.93" width="6" height="6.47" fill="#26A69A"/>
<rect x="913.06" y="512.98" width="6" height="2.42" fill="#B2DFDB"/>
<rect x="920.48" y="515.40" width="6" height="1.65" fill="#FF5252"/>
<rect x="927.90" y="515.40" width="6" height="3.76" fill="#FF5252"/>
<rect x="935.32" y="515.40" width="6" height="3.47" fill="#FFCDD2"/>
<rect x="942.74" y="513.47" width="6" height="1.93" fill="#26A69A"/>
<rect x="950.16" y="515.40" width="6" height="1.42" fill="#FF5252"/>
<rect x="957.58" y="513.42" width="6" height="1.98" fill="#26A69A"/>
<rect x="965.00" y="513.36" width="6" height="2.04" fill="#26A69A"/>
<rect x="972.42" y="505.42" width="6" height="9.98" fill="#26A69A"/>
<rect x="979.84" y="503.84" width="6" height="11.56" fill="#26A69A"/>
<rect x="987.26" y="498.65" width="6" height="16.75" fill="#26A69A"/>
<rect x="994.68" y="494.57" width="6" height="20.83" fill="#26A69A"/>
<rect x="1002.10" y="491.28" width="6" height="24.12" fill="#26A69A"/>
<rect x="1009.52" y="492.05" width="6" height="23.35" fill="#B2DFDB"/>
<rect x="1016.94" y="493.36" width="6" height="22.04" fill="#B2DFDB"/>
<rect x="1024.36" y="505.14" width="6" height="10.26" fill="#B2DFDB"/>
<rect x="1031.78" y="515.40" width="6" height="3.36" fill="#FF5252"/>
<rect x="1039.20" y="515.40" width="6" height="11.01" fill="#FF5252"/>
<rect x="1046.62" y="515.40" width="6" height="18.01" fill="#FF5252"/>
<rect x="1054.04" y="515.40" width="6" height="21.42" fill="#FF5252"/>
<rect x="1061.46" y="515.40" width="6" height="20.87" fill="#FFCDD2"/>
<rect x="1068.88" y="515.40" width="6" height="16.24" fill="#FFCDD2"/>
<rect x="1076.30" y="515.40" width="6" height="13.11" fill="#FFCDD2"/>
<rect x="1083.72" y="515.40" width="6" height="5.46" fill="#FFCDD2"/>
<rect x="1091.14" y="515.40" width="6" height="3.84" fill="#FFCDD2"/>
<rect x="1098.56" y="514.07" width="6" height="1.33" fill="#26A69A"/>
<rect x="1105.98" y="514.23" width="6" height="1.17" fill="#B2DFDB"/>
<rect x="1113.40" y="515.40" width="6" height="0.65" fill="#FF5252"/>
<rect x="1120.82" y="515.40" width="6" height="5.74" fill="#FF5252"/>
<rect x="1128.24" y="515.40" width="6" height="9.36" fill="#FF5252"/>
<rect x="1135.66" y="515.40" width="6" height="6.86" fill="#FFCDD2"/>
<rect x="1143.08" y="515.40" width="6" height="4.85" fill="#FFCDD2"/>
<rect x="1150.50" y="515.40" width="6" height="3.09" fill="#FFCDD2"/>
<rect x="1157.92" y="515.40" width="6" height="2.19" fill="#FFCDD2"/>
<rect x="1165.34" y="515.40" width="6" height="0.80" fill="#FFCDD2"/>
<rect x="1172.76" y="512.49" width="6" height="2.91" fill="#26A69A"/>
<rect x="1180.18" y="515.40" width="6" height="1.61" fill="#FF5252"/>
<rect x="1187.60" y="515.40" width="6" height="1.49" fill="#FFCDD2"/>
<rect x="1195.02" y="515.40" width="6" height="2.66" fill="#FF5252"/>
<rect x="1202.44" y="513.12" width="6" height="2.28" fill="#26A69A"/>
<rect x="1209.86" y="511.61" width="6" height="3.79" fill="#26A69A"/>
<rect x="1217.28" y="512.48" width="6" height="2.92" fill="#B2DFDB"/>
<rect x="1224.70" y="515.40" width="6" height="1.17" fill="#FF5252"/>
<rect x="1232.12" y="515.40" width="6" height="1.12" fill="#FFCDD2"/>
<rect x="1239.54" y="512.79" width="6" height="2.61" fill="#26A69A"/>
<rect x="1246.96" y="514.77" width="6" height="0.63" fill="#B2DFDB"/>
<rect x="1254.38" y="515.40" width="6" height="2.40" fill="#FF5252"/>
<rect x="1261.80" y="515.40" width="6" height="3.47" fill="#FF5252"/>
<rect x="1269.22" y="515.40" width="6" height="7.60" fill="#FF5252"/>
<rect x="1276.64" y="515.40" width="6" height="11.29" fill="#FF5252"/>
<rect x="1284.06" y="515.40" width="6" height="14.99" fill="#FF5252"/>
<rect x="1291.48" y="515.40" width="6" height="15.35" fill="#FF5252"/>
<rect x="1298.90" y="515.40" width="6" height="13.75" fill="#FFCDD2"/>
<rect x="1306.32" y="515.40" width="6" height="6.05" fill="#FFCDD2"/>
<rect x="1313.74" y="512.07" width="6" height="3.33" fill="#26A69A"/>
<rect x="1321.16" y="504.61" width="6" height="10.79" fill="#26A69A"/>
<polyline points="3.4,529.3 10.8,527.2 18.2,527.1 25.7,524.2 33.1,522.8 40.5,522.7 47.9,520.0 55.3,520.2 62.8,524.0 70.2,524.4 77.6,524.1 85.0,521.9 92.4,501.5 99.9,473.5 107.3,465.7 114.7,467.8 122.1,471.5 129.5,473.3 137.0,473.9 144.4,473.7 151.8,460.0 159.2,466.7 166.6,464.9 174.1,462.3 181.5,467.7 188.9,469.2 196.3,473.2 203.7,479.0 211.2,481.1 218.6,482.2 226.0,489.9 233.4,494.2 240.8,487.2 248.3,500.7 255.7,511.5 263.1,504.9 270.5,507.1 277.9,514.7 285.4,509.1 292.8,503.3 300.2,503.7 307.6,494.7 315.0,489.6 322.5,497.9 329.9,508.4 337.3,510.7 344.7,512.1 352.1,516.9 359.6,511.6 367.0,519.0 374.4,523.1 381.8,527.5 389.2,531.2 396.7,529.4 404.1,527.1 411.5,527.1 418.9,509.1 426.3,514.9 433.8,519.7 441.2,525.6 448.6,528.5 456.0,529.8 463.4,529.2 470.9,531.0 478.3,533.3 485.7,535.6 493.1,539.0 500.5,540.2 508.0,540.4 515.4,538.8 522.8,537.1 530.2,518.7 537.6,514.9 545.1,520.7 552.5,525.6 559.9,524.5 567.3,525.4 574.7,527.3 582.2,530.0 589.6,530.7 597.0,533.4 604.4,529.0 611.8,522.5 619.3,512.6 626.7,511.4 634.1,510.9 641.5,512.1 648.9,514.0 656.4,513.2 663.8,515.9 671.2,521.7 678.6,525.8 686.0,529.4 693.5,530.1 700.9,535.4 708.3,541.1 715.7,545.8 723.1,546.6 730.6,550.0 738.0,542.3 745.4,535.7 752.8,527.0 760.2,522.1 767.7,521.2 775.1,523.2 782.5,520.6 789.9,520.9 797.3,523.4 804.8,523.9 812.2,524.7 819.6,523.9 827.0,525.0 834.4,524.5 841.9,523.4 849.3,521.5 856.7,523.5 864.1,524.1 871.5,526.7 879.0,527.7 886.4,523.1 893.8,517.5 901.2,518.8 908.6,515.0 916.1,518.6 923.5,521.8 930.9,524.7 938.3,525.1 945.7,520.6 953.2,522.9 960.6,520.4 968.0,519.9 975.4,509.7 982.8,505.3 990.3,496.1 997.7,487.0 1005.1,477.8 1012.5,472.9 1019.9,468.8 1027.4,478.2 1034.8,491.3 1042.2,501.6 1049.6,512.9 1057.0,521.5 1064.5,526.0 1071.9,525.3 1079.3,525.3 1086.7,518.9 1094.1,518.1 1101.6,513.9 1109.0,513.9 1116.4,514.6 1123.8,521.0 1131.2,526.8 1138.7,525.8 1146.1,524.9 1153.5,523.7 1160.9,523.2 1168.3,521.9 1175.8,518.8 1183.2,522.4 1190.6,522.5 1198.0,524.2 1205.4,520.0 1212.9,517.7 1220.3,518.0 1227.7,521.0 1235.1,521.1 1242.5,518.1 1250.0,520.0 1257.4,522.3 1264.8,524.1 1272.2,530.0 1279.6,536.4 1287.1,543.7 1294.5,547.7 1301.9,549.4 1309.3,543.1 1316.7,534.2 1324.2,524.2" fill="none" stroke="#2962FF" stroke-width="1.5" stroke-linejoin="round"/>
<polyline points="3.4,529.6 10.8,529.1 18.2,528.7 25.7,527.8 33.1,526.8 40.5,526.0 47.9,524.8 55.3,523.9 62.8,523.9 70.2,524.0 77.6,524.0 85.0,523.6 92.4,519.2 99.9,510.1 107.3,501.2 114.7,494.5 122.1,489.9 129.5,486.6 137.0,484.0 144.4,482.0 151.8,477.6 159.2,475.4 166.6,473.3 174.1,471.1 181.5,470.4 188.9,470.2 196.3,470.8 203.7,472.4 211.2,474.2 218.6,475.8 226.0,478.6 233.4,481.7 240.8,482.8 248.3,486.4 255.7,491.4 263.1,494.1 270.5,496.7 277.9,500.3 285.4,502.1 292.8,502.3 300.2,502.6 307.6,501.0 315.0,498.7 322.5,498.6 329.9,500.5 337.3,502.6 344.7,504.5 352.1,507.0 359.6,507.9 367.0,510.1 374.4,512.7 381.8,515.7 389.2,518.8 396.7,520.9 404.1,522.1 411.5,523.1 418.9,520.3 426.3,519.2 433.8,519.3 441.2,520.6 448.6,522.2 456.0,523.7 463.4,524.8 470.9,526.0 478.3,527.5 485.7,529.1 493.1,531.1 500.5,532.9 508.0,534.4 515.4,535.3 522.8,535.6 530.2,532.3 537.6,528.8 545.1,527.2 552.5,526.9 559.9,526.4 567.3,526.2 574.7,526.4 582.2,527.1 589.6,527.8 597.0,529.0 604.4,529.0 611.8,527.7 619.3,524.7 626.7,522.0 634.1,519.8 641.5,518.2 648.9,517.4 656.4,516.5 663.8,516.4 671.2,517.5 678.6,519.1 686.0,521.2 693.5,523.0 700.9,525.5 708.3,528.6 715.7,532.0 723.1,535.0 730.6,538.0 738.0,538.8 745.4,538.2 752.8,536.0 760.2,533.2 767.7,530.8 775.1,529.3 782.5,527.5 789.9,526.2 797.3,525.7 804.8,525.3 812.2,525.2 819.6,524.9 827.0,525.0 834.4,524.9 841.9,524.6 849.3,524.0 856.7,523.9 864.1,523.9 871.5,524.5 879.0,525.1 886.4,524.7 893.8,523.3 901.2,522.4 908.6,520.9 916.1,520.4 923.5,520.7 930.9,521.5 938.3,522.2 945.7,521.9 953.2,522.1 960.6,521.7 968.0,521.4 975.4,519.0 982.8,516.3 990.3,512.3 997.7,507.2 1005.1,501.3 1012.5,495.6 1019.9,490.3 1027.4,487.9 1034.8,488.5 1042.2,491.2 1049.6,495.5 1057.0,500.7 1064.5,505.8 1071.9,509.7 1079.3,512.8 1086.7,514.0 1094.1,514.8 1101.6,514.7 1109.0,514.5 1116.4,514.5 1123.8,515.8 1131.2,518.0 1138.7,519.6 1146.1,520.6 1153.5,521.2 1160.9,521.6 1168.3,521.7 1175.8,521.1 1183.2,521.4 1190.6,521.6 1198.0,522.1 1205.4,521.7 1212.9,520.9 1220.3,520.3 1227.7,520.5 1235.1,520.6 1242.5,520.1 1250.0,520.1 1257.4,520.5 1264.8,521.2 1272.2,523.0 1279.6,525.7 1287.1,529.3 1294.5,533.0 1301.9,536.2 1309.3,537.6 1316.7,536.9 1324.2,534.4" fill="none" stroke="#FF6D00" stroke-width="1.5" stroke-linejoin="round"/>
</g>
<text x="1488.4" y="65.8" font-size="16.3" fill="#131722" stroke="#131722" stroke-width="0.3">0.0820</text>
<text x="1488.4" y="138.3" font-size="16.3" fill="#131722" stroke="#131722" stroke-width="0.3">0.0810</text>
<text x="1488.4" y="283.3" font-size="16.3" fill="#131722" stroke="#131722" stroke-width="0.3">0.0790</text>
<text x="1488.4" y="355.8" font-size="16.3" fill="#131722" stroke="#131722" stroke-width="0.3">0.0780</text>
<text x="1488.4" y="428.3" font-size="16.3" fill="#131722" stroke="#131722" stroke-width="0.3">0.0770</text>
<text x="1488.4" y="521.2" font-size="16.3" fill="#131722" stroke="#131722" stroke-width="0.3">0.0000</text>
<svg x="1476" y="450" width="60" height="30" overflow="hidden">
<text x="12.4" y="9.8" font-size="16.3" fill="#131722" stroke="#131722" stroke-width="0.3">0.0005</text>
</svg>
<rect x="1476.5" y="141.2" width="60" height="24.200000000000017" fill="#089981"/>
<text x="1488.4" y="159.1" font-size="16.3" fill="#ffffff" stroke="#ffffff" stroke-width="0.3">0.0807</text>
<rect x="1476.5" y="195.2" width="60" height="23.400000000000006" fill="#089981"/>
<text x="1488.4" y="212.7" font-size="16.3" fill="#ffffff" stroke="#ffffff" stroke-width="0.3">0.0799</text>
<rect x="1476.5" y="251.2" width="60" height="24.400000000000034" fill="#2962FF"/>
<text x="1488.4" y="269.2" font-size="16.3" fill="#ffffff" stroke="#ffffff" stroke-width="0.3">0.0792</text>
<rect x="1476.5" y="284.3" width="60" height="24.099999999999966" fill="#F23645"/>
<text x="1488.4" y="302.2" font-size="16.3" fill="#ffffff" stroke="#ffffff" stroke-width="0.3">0.0787</text>
<rect x="1476.5" y="318.2" width="60" height="25.80000000000001" fill="#F23645"/>
<text x="1488.4" y="336.9" font-size="16.3" fill="#ffffff" stroke="#ffffff" stroke-width="0.3">0.0782</text>
<rect x="1480.5" y="8" width="62" height="34" rx="5" fill="#ffffff" stroke="#e0e3eb"/>
<text x="1493.7" y="29.7" font-size="16.3" fill="#131722" stroke="#131722" stroke-width="0.3" textLength="27.3" lengthAdjust="spacingAndGlyphs">USD</text>
<text x="17.5" y="27.7" font-size="15.2" fill="#131722" stroke="#131722" stroke-width="0.3" textLength="140.3" lengthAdjust="spacingAndGlyphs">Beldex, 2h, CRYPTO</text>
<text x="168.8" y="27.7" font-size="15.2" fill="#131722" stroke="#131722" stroke-width="0.3" textLength="10.2" lengthAdjust="spacingAndGlyphs">O</text>
<text x="179.6" y="27.7" font-size="15.2" fill="#089981" stroke="#089981" stroke-width="0.3" textLength="63.4" lengthAdjust="spacingAndGlyphs">0.079519</text>
<text x="253.75" y="27.7" font-size="15.2" fill="#131722" stroke="#131722" stroke-width="0.3" textLength="9.4" lengthAdjust="spacingAndGlyphs">H</text>
<text x="263.4" y="27.7" font-size="15.2" fill="#089981" stroke="#089981" stroke-width="0.3" textLength="63.3" lengthAdjust="spacingAndGlyphs">0.079889</text>
<text x="338.1" y="27.7" font-size="15.2" fill="#131722" stroke="#131722" stroke-width="0.3" textLength="7.2" lengthAdjust="spacingAndGlyphs">L</text>
<text x="345.5" y="27.7" font-size="15.2" fill="#089981" stroke="#089981" stroke-width="0.3" textLength="64" lengthAdjust="spacingAndGlyphs">0.079350</text>
<text x="419.7" y="27.7" font-size="15.2" fill="#131722" stroke="#131722" stroke-width="0.3" textLength="8.6" lengthAdjust="spacingAndGlyphs">C</text>
<text x="428.3" y="27.7" font-size="15.2" fill="#089981" stroke="#089981" stroke-width="0.3" textLength="64.7" lengthAdjust="spacingAndGlyphs">0.079809</text>
<text x="504.5" y="27.7" font-size="15.2" fill="#089981" stroke="#089981" stroke-width="0.3" textLength="136.5" lengthAdjust="spacingAndGlyphs">+0.000290 (+0.36%)</text>
<text x="17.2" y="475.6" font-size="15.2" fill="#131722" stroke="#131722" stroke-width="0.3" textLength="146.2" lengthAdjust="spacingAndGlyphs">MACD (12, 26, close)</text>
<text x="175.2" y="475.6" font-size="15.2" fill="#22a08c" stroke="#22a08c" stroke-width="0.3" textLength="63.5" lengthAdjust="spacingAndGlyphs">0.000084</text>
<text x="248.8" y="475.6" font-size="15.2" fill="#3b62e8" stroke="#3b62e8" stroke-width="0.3" textLength="71.1" lengthAdjust="spacingAndGlyphs">−0.000073</text>
<text x="331.7" y="475.6" font-size="15.2" fill="#f07a22" stroke="#f07a22" stroke-width="0.3" textLength="71.1" lengthAdjust="spacingAndGlyphs">−0.000157</text>
<text x="40.5" y="583.9" font-size="16.3" fill="#131722" stroke="#131722" stroke-width="0.15" text-anchor="middle" font-weight="bold">6</text>
<text x="218.6" y="583.9" font-size="16.3" fill="#131722" stroke="#131722" stroke-width="0.15" text-anchor="middle" font-weight="bold">8</text>
<text x="396.7" y="583.9" font-size="16.3" fill="#131722" stroke="#131722" stroke-width="0.15" text-anchor="middle" font-weight="bold">10</text>
<text x="530.2" y="583.9" font-size="16.3" fill="#131722" stroke="#131722" stroke-width="0.5" text-anchor="middle">12:00</text>
<text x="663.8" y="583.9" font-size="16.3" fill="#131722" stroke="#131722" stroke-width="0.15" text-anchor="middle" font-weight="bold">13</text>
<text x="841.9" y="583.9" font-size="16.3" fill="#131722" stroke="#131722" stroke-width="0.15" text-anchor="middle" font-weight="bold">15</text>
<text x="1019.9" y="583.9" font-size="16.3" fill="#131722" stroke="#131722" stroke-width="0.15" text-anchor="middle" font-weight="bold">17</text>
<text x="1153.5" y="583.9" font-size="16.3" fill="#131722" stroke="#131722" stroke-width="0.5" text-anchor="middle">12:00</text>
<text x="1287.1" y="583.9" font-size="16.3" fill="#131722" stroke="#131722" stroke-width="0.15" text-anchor="middle" font-weight="bold">20</text>
<text x="1465.1" y="583.9" font-size="16.3" fill="#131722" stroke="#131722" stroke-width="0.15" text-anchor="middle" font-weight="bold">22</text>
<g fill="#131722">
<path d="M6.2 612.8H16.4V625.3H10.9V617.3H6.2Z"/>
<circle cx="21.2" cy="615.2" r="2.6"/>
<path d="M24.2 612.8H31.9L26.4 625.3H21Z"/>
</g>
<text x="36.9" y="626.4" font-size="17" fill="#131722" stroke="#131722" stroke-width="0.3" textLength="93.5" lengthAdjust="spacingAndGlyphs">TradingView</text>
</svg></body></html>
